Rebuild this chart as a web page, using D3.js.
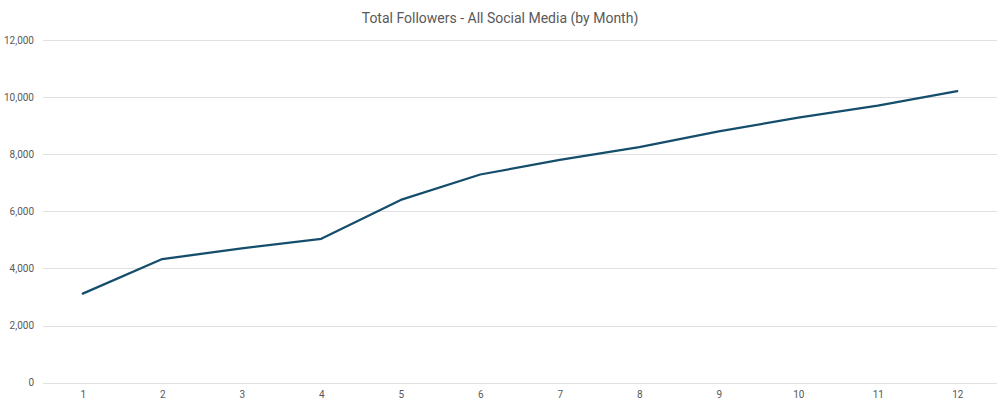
<!DOCTYPE html>
<html lang="en">
<head>
	<meta charset="UTF-8">
	<title>Total Followers - All Social Media</title>
	<script src="https://d3js.org/d3.v7.min.js"></script>
	<style>
		body {
			margin: 0;
			background-color: #ffffff;
		}
		text {
			font-family: "Liberation Sans Narrow", "Roboto", sans-serif;
			fill: #595959;
		}
		.title {
			font-size: 14px;
		}
		.tick text {
			font-size: 10px;
		}
		.grid line {
			stroke: #e0e0e0;
			stroke-width: 1;
		}
		.line {
			fill: none;
			stroke: #154e6c;
			stroke-width: 2.25;
			stroke-linejoin: round;
			stroke-linecap: round;
		}
	</style>
</head>
<body>
<script type="text/javascript">
	var months = ['1', '2', '3', '4', '5', '6', '7', '8', '9', '10', '11', '12'];
	var followers = [3120, 4330, 4700, 5040, 6400, 7290, 7800, 8250, 8800, 9280, 9700, 10210];
	var yTicks = [0, 2000, 4000, 6000, 8000, 10000, 12000];
	var title = 'Total Followers - All Social Media (by Month)';

	var width = 1000, height = 404;
	var margin = {top: 40, bottom: 21, left: 43, right: 3};

	var svg = d3.select('body').append('svg')
		.attr('width', width)
		.attr('height', height);

	var x = d3.scalePoint()
		.domain(months)
		.range([margin.left, width - margin.right])
		.padding(0.5);

	var y = d3.scaleLinear()
		.domain([0, 12000])
		.range([height - margin.bottom - 0.3, margin.top]);

	// gridlines
	svg.append('g')
		.attr('class', 'grid')
		.selectAll('line')
		.data(yTicks)
		.enter().append('line')
		.attr('x1', margin.left)
		.attr('x2', width - margin.right)
		.attr('y1', function (d) { return Math.round(y(d)) + 0.5; })
		.attr('y2', function (d) { return Math.round(y(d)) + 0.5; });

	// y axis labels
	var yAxis = svg.append('g')
		.attr('transform', 'translate(' + (margin.left - 9) + ',0)')
		.call(d3.axisLeft(y).tickValues(yTicks).tickSize(0).tickPadding(0)
			.tickFormat(d3.format(',')));
	yAxis.select('.domain').remove();

	// x axis labels
	var xAxis = svg.append('g')
		.attr('transform', 'translate(0,' + (height - margin.bottom) + ')')
		.call(d3.axisBottom(x).tickSize(0).tickPadding(8));
	xAxis.select('.domain').remove();

	// line
	var line = d3.line()
		.x(function (d, i) { return x(months[i]); })
		.y(function (d) { return y(d); });

	svg.append('path')
		.datum(followers)
		.attr('class', 'line')
		.attr('d', line);

	svg.append('text')
		.attr('class', 'title')
		.attr('x', width / 2)
		.attr('y', 23)
		.attr('text-anchor', 'middle')
		.text(title);
</script>
</body>
</html>
